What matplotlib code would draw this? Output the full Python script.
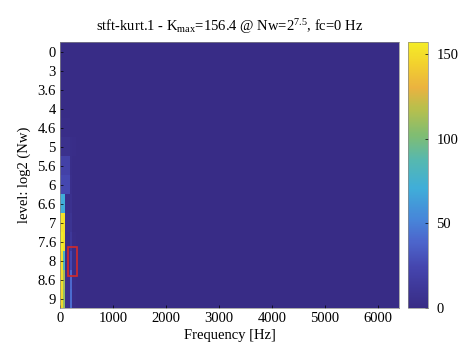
import numpy as np
import matplotlib
matplotlib.use("Agg")
import matplotlib.pyplot as plt
from matplotlib.colors import LinearSegmentedColormap
from matplotlib.patches import Rectangle

plt.rcParams["font.family"] = ["Liberation Serif", "DejaVu Serif"]
plt.rcParams["mathtext.fontset"] = "custom"
plt.rcParams["mathtext.rm"] = "Liberation Serif"
plt.rcParams["mathtext.default"] = "regular"

# kurtogram levels (rows, top to bottom) and frequency band edges (Hz)
level_labels = ["0", "3", "3.6", "4", "4.6", "5", "5.6", "6",
                "6.6", "7", "7.6", "8", "8.6", "9"]
freq_edges = [0, 50, 100, 190, 225, 300, 6400]

# spectral kurtosis per level and band
kurt = [
    [1, 1, 1, 1, 1, 1],
    [1, 1, 1, 1, 1, 1],
    [1, 1, 1, 1, 1, 1],
    [1, 1, 1, 1, 1, 1],
    [2, 2, 2, 1, 1, 1],
    [5, 5, 5, 3, 2, 1],
    [20, 20, 20, 3, 1, 1],
    [25, 25, 25, 4, 1, 1],
    [70, 70, 3, 6, 1, 1],
    [152, 150, 4, 8, 1, 1],
    [156, 150, 3, 12, 2, 1],
    [150, 80, 4, 24, 2, 1],
    [150, 112, 5, 40, 2, 1],
    [148, 108, 5, 42, 2, 1],
]
k_max = 156.4
# selected window marked in red (Hz, level-row units)
sel_freq = (150, 320)
sel_rows = (10.8, 12.3)

parula = LinearSegmentedColormap.from_list("parula", [
    (0.00, (0.22, 0.17, 0.52)), (0.15, (0.27, 0.27, 0.68)),
    (0.25, (0.30, 0.40, 0.80)), (0.33, (0.28, 0.52, 0.85)),
    (0.45, (0.25, 0.68, 0.85)), (0.55, (0.33, 0.72, 0.70)),
    (0.65, (0.50, 0.74, 0.45)), (0.75, (0.72, 0.75, 0.30)),
    (0.83, (0.92, 0.70, 0.25)), (0.92, (0.95, 0.82, 0.18)),
    (1.00, (0.96, 0.93, 0.15)),
])

fig = plt.figure(figsize=(4.74, 3.64), dpi=100)
ax = fig.add_axes([0.1266, 0.1538, 0.7154, 0.7308])
cax = fig.add_axes([0.861, 0.1538, 0.042, 0.7308])

row_edges = np.arange(len(level_labels) + 1)
mesh = ax.pcolormesh(freq_edges, row_edges, np.array(kurt), cmap=parula,
                     vmin=0, vmax=157, shading="flat")
ax.set_xlim(0, 6400)
ax.set_ylim(len(level_labels), 0)
ax.set_yticks(row_edges[:-1] + 0.5)
ax.set_yticklabels(level_labels)
ax.set_xticks(np.arange(0, 6001, 1000))
ax.tick_params(direction="in", length=2, width=0.5, labelsize=10.5, pad=3)

ax.add_patch(Rectangle((sel_freq[0], sel_rows[0]), sel_freq[1] - sel_freq[0],
                       sel_rows[1] - sel_rows[0], fill=False,
                       edgecolor="#d42a2a", linewidth=1.2))

for s in ax.spines.values():
    s.set_linewidth(0.5)
    s.set_color("#888888")

ax.set_xlabel("Frequency [Hz]", fontsize=10.5, labelpad=3)
ax.set_ylabel("level: log2 (Nw)", fontsize=10.5, labelpad=5)
ax.set_title(r"stft-kurt.1 - K$_{max}$=%.1f @ Nw=2$^{7.5}$, fc=0 Hz" % k_max,
             fontsize=10.5, pad=8)

cb = fig.colorbar(mesh, cax=cax, ticks=[0, 50, 100, 150])
cb.outline.set_linewidth(0.5)
cb.outline.set_edgecolor("#888888")
cax.tick_params(direction="in", length=2, width=0.5, labelsize=10.5, pad=6)

fig.savefig("out.png", dpi=100)
